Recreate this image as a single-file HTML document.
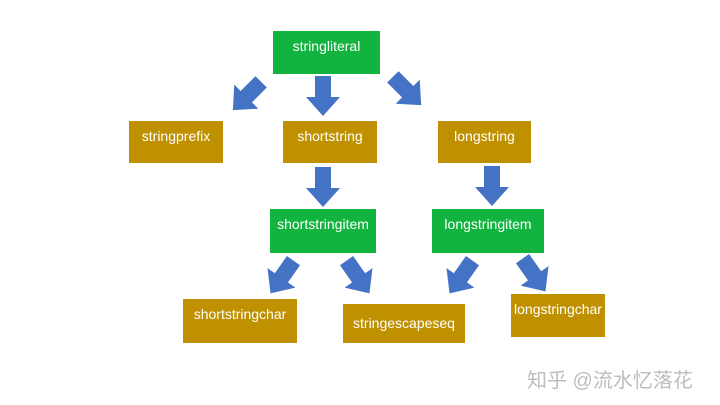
<!DOCTYPE html>
<html><head><meta charset="utf-8"><style>
body{margin:0;background:#fff;}
.b{position:absolute;color:#fff;font-family:"Liberation Sans",sans-serif;font-size:14px;text-align:center;box-sizing:border-box;padding-top:7px;}
.g{background:#12b43f;}
.o{background:#bf9000;}
</style></head><body>
<div style="position:relative;width:720px;height:405px;overflow:hidden">
<svg width="720" height="405" style="position:absolute;left:0;top:0">
<defs><polygon id="a" points="-8,-20 8,-20 8,1 17,1 0,20 -17,1 -8,1" fill="#4472c4"/></defs>
<use href="#a" transform="translate(247,96) rotate(45)"/>
<use href="#a" transform="translate(323,96)"/>
<use href="#a" transform="translate(407,91) rotate(-45)"/>
<use href="#a" transform="translate(323,187)"/>
<use href="#a" transform="translate(492,186)"/>
<use href="#a" transform="translate(282,277) rotate(35)"/>
<use href="#a" transform="translate(358,277) rotate(-35)"/>
<use href="#a" transform="translate(461,277) rotate(35)"/>
<use href="#a" transform="translate(534,275) rotate(-35)"/>
</svg>
<div class="b g" style="left:273px;top:31px;width:107px;height:43px">stringliteral</div>
<div class="b o" style="left:129px;top:121px;width:94px;height:42px">stringprefix</div>
<div class="b o" style="left:283px;top:121px;width:94px;height:42px">shortstring</div>
<div class="b o" style="left:438px;top:121px;width:93px;height:42px">longstring</div>
<div class="b g" style="left:270px;top:209px;width:106px;height:44px">shortstringitem</div>
<div class="b g" style="left:432px;top:209px;width:112px;height:44px">longstringitem</div>
<div class="b o" style="left:183px;top:299px;width:114px;height:44px">shortstringchar</div>
<div class="b o" style="left:343px;top:304px;width:122px;height:39px;padding-top:11px">stringescapeseq</div>
<div class="b o" style="left:511px;top:294px;width:94px;height:43px">longstringchar</div>
<div style="position:absolute;left:527px;top:364px;font-family:'Liberation Sans','Noto Sans CJK SC',sans-serif;font-size:20px;color:#bdbdbd">知乎 @流水忆落花</div>
</div>
</body></html>
